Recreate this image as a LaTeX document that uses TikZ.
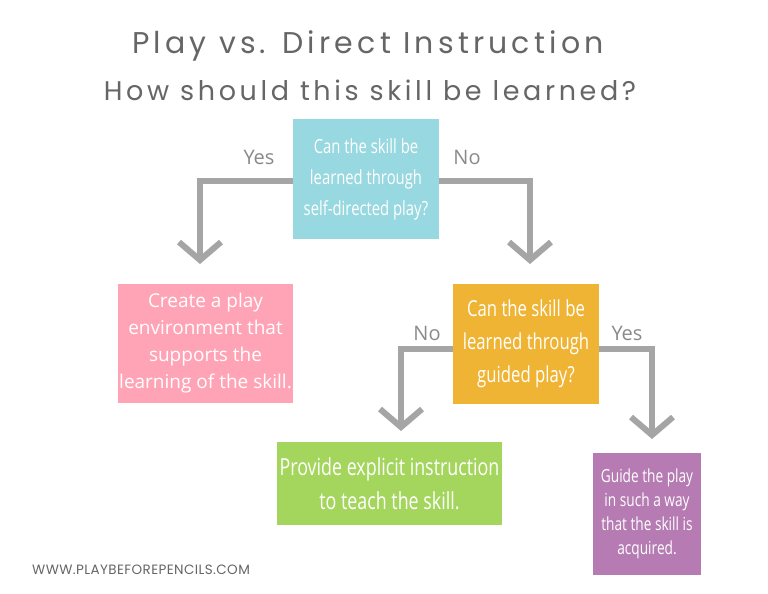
\documentclass[tikz,border=0pt]{standalone}
\usepackage{fontspec}
\setmainfont{Open Sans}
\newfontfamily\cfont{Open Sans}[FakeStretch=0.76]
\newfontfamily\tfont{Poppins}[LetterSpace=14]
\newfontfamily\sfont{Poppins}[LetterSpace=13.5]
\newfontfamily\ufont{Poppins}[LetterSpace=3]
\usetikzlibrary{arrows.meta}
\definecolor{qcyan}{HTML}{98D8E0}
\definecolor{qpink}{HTML}{FFA4B6}
\definecolor{qorange}{HTML}{F0B434}
\definecolor{qgreen}{HTML}{A4D65E}
\definecolor{qpurple}{HTML}{B57BB2}
\definecolor{arrowgray}{HTML}{A5A5A5}
\definecolor{labelgray}{HTML}{8A8A8A}
\definecolor{titlegray}{HTML}{666666}
\tikzset{
  box/.style={rectangle, inner sep=0pt, text=white, align=center},
  flow/.style={draw=arrowgray, line width=6pt, -{Straight Barb[length=18pt,width=42pt]}},
  lbl/.style={text=labelgray, font=\fontsize{20}{24}\selectfont, inner sep=0pt}
}
\begin{document}
\begin{tikzpicture}[x=1pt,y=-1pt]
\useasboundingbox (0,0) rectangle (768,594);
\fill[white] (0,0) rectangle (768,594);
% titles
\node[anchor=base, text=titlegray, font=\tfont\fontsize{30}{34}\selectfont, inner sep=0pt] (title) at (368,53) {Play vs. Direct Instruction};
\node[anchor=base, text=titlegray, font=\sfont\fontsize{27}{32}\selectfont, inner sep=0pt] (sub) at (370,100) {How should this skill be learned?};
% boxes
\node[box, fill=qcyan, minimum width=146pt, minimum height=120pt, font=\cfont\fontsize{19.5}{31}\selectfont] (q1) at (366,179) {Can the skill be\\learned through\\self-directed play?};
\node[box, fill=qpink, minimum width=175pt, minimum height=119pt, font=\fontsize{19}{27}\selectfont] (pink) at (205.5,343.5) {Create a play\\environment that\\supports the\\learning of the skill.};
\node[box, fill=qorange, minimum width=146pt, minimum height=120pt, font=\cfont\fontsize{22}{33}\selectfont] (q2) at (526,344) {Can the skill be\\learned through\\guided play?};
\node[box, fill=qgreen, minimum width=225pt, minimum height=83pt, font=\cfont\fontsize{23.5}{34}\selectfont] (green) at (389.5,483.5) {Provide explicit instruction\\to teach the skill.};
\node[box, fill=qpurple, minimum width=108pt, minimum height=122pt, font=\cfont\fontsize{18}{24}\selectfont] (purple) at (647,514) {Guide the play\\in such a way\\that the skill is\\acquired.};
% arrow ends
\coordinate (t1) at (200,264);
\coordinate (t2) at (530,264);
\coordinate (t3) at (401,431);
\coordinate (t4) at (652,439);
\draw[flow] (q1.west |- 0,181) -| (t1);
\draw[flow] (q1.east |- 0,181) -| (t2);
\draw[flow] (q2.west |- 0,349) -| (t3);
\draw[flow] (q2.east |- 0,349) -| (t4);
% labels
\node[lbl] (yes1) at (259,157) {Yes};
\node[lbl] (no1) at (467,157) {No};
\node[lbl] (no2) at (427,333) {No};
\node[lbl] (yes2) at (627,333) {Yes};
% url
\node[anchor=base west, text=titlegray, font=\ufont\fontsize{13.5}{16}\selectfont, inner sep=0pt] (url) at (32,574) {WWW.PLAYBEFOREPENCILS.COM};
\end{tikzpicture}
\end{document}
